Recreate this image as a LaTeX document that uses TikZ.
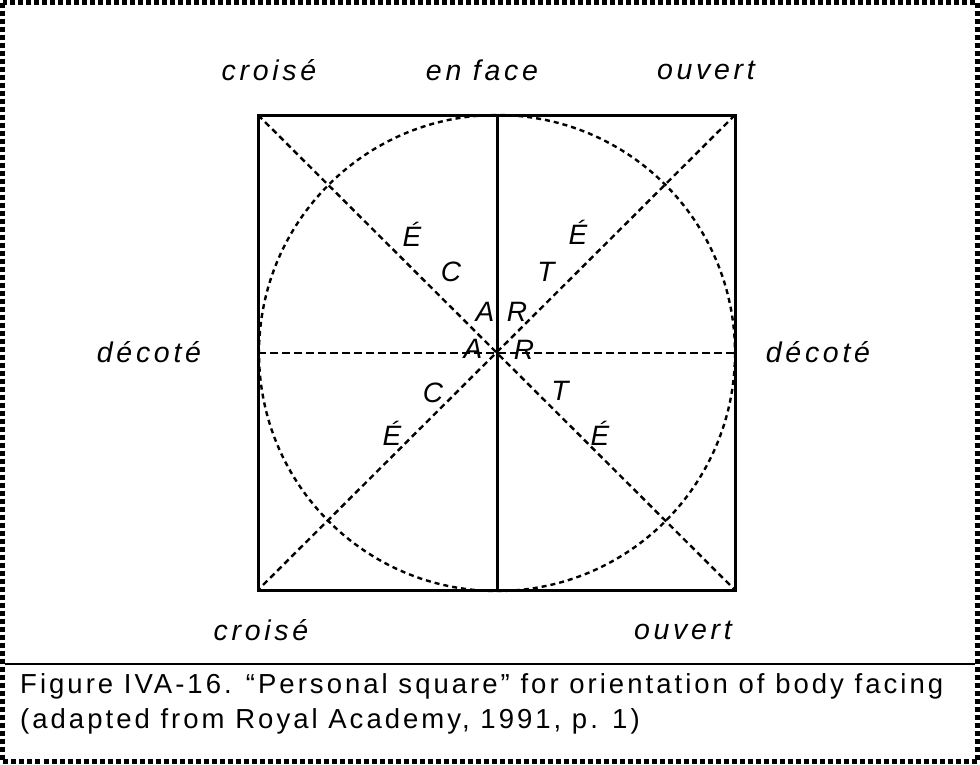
\documentclass[tikz,border=0pt]{standalone}
\usepackage{fontspec}
\setmainfont{Liberation Sans}
\newfontfamily\labfont[LetterSpace=13]{Liberation Sans}
\newfontfamily\capfont[LetterSpace=11]{Liberation Sans}
\begin{document}
\begin{tikzpicture}[x=1pt,y=-1pt,
  lab/.style={font=\labfont\fontsize{28.5}{30}\selectfont\itshape, inner sep=0pt},
  let/.style={font=\fontsize{28}{30}\selectfont\itshape, inner sep=0pt},
  sqline/.style={line width=3pt},
  dline/.style={line width=2.4pt, dash pattern=on 6pt off 4pt},
  cline/.style={line width=2.4pt, dash pattern=on 5pt off 4pt},
  frame/.style={line width=5pt, dash pattern=on 5pt off 3pt}]
\useasboundingbox (0,0) rectangle (980,764);
\fill[white] (0,0) rectangle (980,764);
% outer frame and caption separator
\draw[frame] (2.5,2.5) rectangle (977.5,761.5);
\coordinate (sepL) at (5,664);
\coordinate (sepR) at (975,664);
\draw[line width=2.4pt] (sepL) -- (sepR);
% square
\coordinate (TL) at (258,115);
\coordinate (TR) at (735,115);
\coordinate (BL) at (258,590);
\coordinate (BR) at (735,590);
\coordinate (O) at (497,353);
\coordinate (TM) at (497,115);
\coordinate (BM) at (497,590);
\coordinate (LM) at (258,353);
\coordinate (RM) at (735,353);
\draw[cline] (O) circle[radius=238];
\draw[dline] (TL) -- (BR);
\draw[dline] (TR) -- (BL);
\draw[line width=2.4pt, dash pattern=on 8pt off 4pt] (LM) -- (RM);
\draw[sqline] (TM) -- (BM);
\draw[sqline] (TL) rectangle (BR);
% outer labels
\node[lab] (croiseT) at (269,70) {croisé};
\node[lab] (enface) at (482,70) {en face};
\node[lab] (ouvertT) at (706,70) {ouvert};
\node[lab] (decoteL) at (149,352) {décoté};
\node[lab] (decoteR) at (818,352) {décoté};
\node[lab] (croiseB) at (261,630) {croisé};
\node[lab] (ouvertB) at (683,630) {ouvert};
% inner letters
\node[let] (E1) at (412,234) {É};
\node[let] (C1) at (451,272) {C};
\node[let] (A1) at (485,312) {A};
\node[let] (R1) at (517,312) {R};
\node[let] (A2) at (473,349) {A};
\node[let] (R2) at (524,350) {R};
\node[let] (T1) at (546,272) {T};
\node[let] (E2) at (578,232) {É};
\node[let] (C2) at (433,393) {C};
\node[let] (E3) at (392,433) {É};
\node[let] (T2) at (560,391) {T};
\node[let] (E4) at (600,433) {É};
% caption
\node[anchor=base west, inner sep=0pt, font=\capfont\fontsize{27.5}{30}\selectfont] (cap1) at (20,693) {Figure IVA-16. “Personal square” for orientation of body facing};
\node[anchor=base west, inner sep=0pt, font=\capfont\fontsize{27.5}{30}\selectfont] (cap2) at (20,728) {(adapted from Royal Academy, 1991, p. 1)};
\end{tikzpicture}
\end{document}
